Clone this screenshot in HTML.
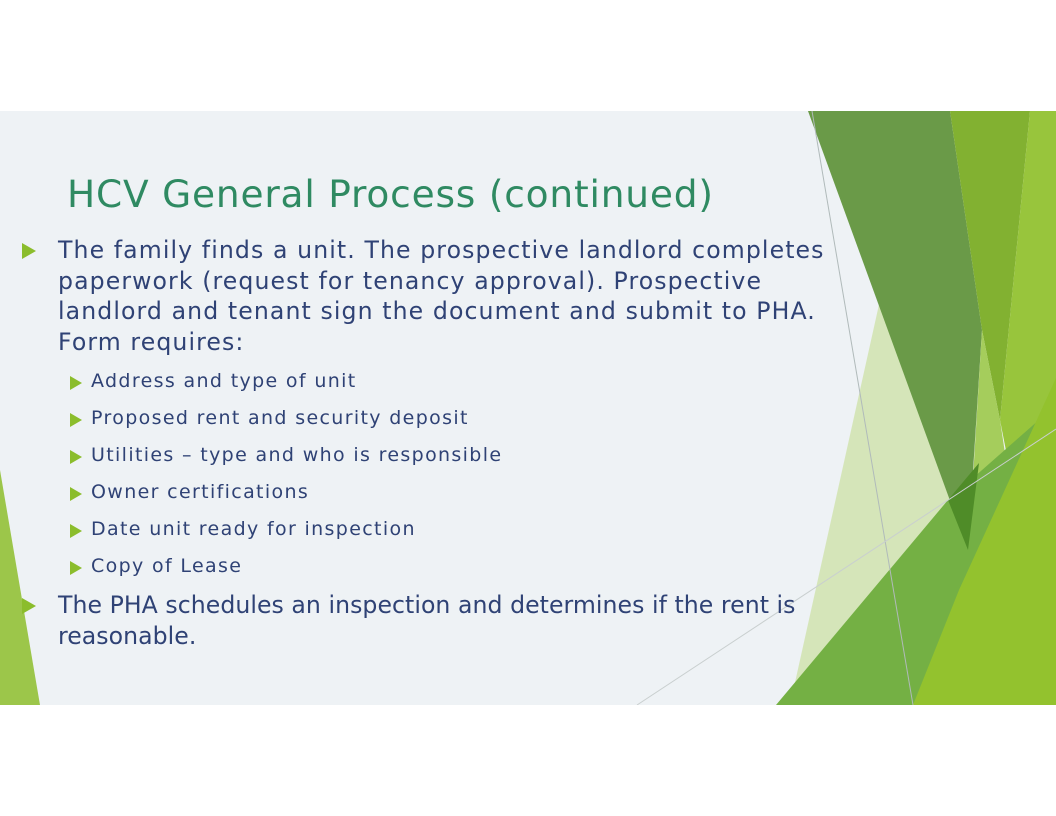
<!DOCTYPE html>
<html><head><meta charset="utf-8"><style>
body{margin:0;width:1056px;height:816px;background:#fff;position:relative;overflow:hidden;font-family:"DejaVu Sans","Liberation Sans",sans-serif}
.slide{position:absolute;left:0;top:111px;width:1056px;height:594px;background:#eef2f5;overflow:hidden}
.t{position:absolute;white-space:nowrap}
.title{left:67px;top:172px;font-size:37.5px;color:#2f8a62;letter-spacing:0.8px}
.b{font-size:23.6px;color:#2f4275;line-height:30.5px;left:58px;letter-spacing:1.1px}
.s{font-size:19px;color:#2f4275;left:91px;letter-spacing:1.35px}
.arr{position:absolute;width:0;height:0;border-top:8px solid transparent;border-bottom:8px solid transparent;border-left:14px solid #8bbd2c}
.arr2{position:absolute;width:0;height:0;border-top:7px solid transparent;border-bottom:7px solid transparent;border-left:12px solid #8bbd2c}
</style></head><body>
<div class="slide">
<svg width="1056" height="594" viewBox="0 111 1056 594" style="position:absolute;left:0;top:0">
<polygon points="0,470 40,705 0,705" fill="#9cc64a"/>
<polygon points="880,300 968,550 790,705" fill="#d5e5b9"/>
<polygon points="808,111 950,111 982,330 968,550" fill="#6a9a48"/>
<polygon points="950,111 1030,111 1000,420 982,330" fill="#82b131"/>
<polygon points="1030,111 1056,111 1056,705 1000,420" fill="#98c53c"/>
<polygon points="982,330 1000,420 1012,500 968,560" fill="#a5cd5c"/>
<polygon points="776,705 948,500 1056,405 1056,705" fill="#74b044"/>
<polygon points="948,500 979,463 968,550" fill="#4f8c28"/>
<polygon points="913,705 959,590 1056,378 1056,705" fill="#93c22e"/>
<line x1="812" y1="111" x2="913" y2="705" stroke="#b0baba" stroke-width="1"/>
<line x1="637" y1="705" x2="1056" y2="429" stroke="#c9cfcf" stroke-width="1"/>
</svg>
</div>
<div class="t title">HCV General Process (continued)</div>
<div class="arr" style="left:22px;top:243px"></div>
<div class="t b" style="top:235px">The family finds a unit. The prospective landlord completes<br>paperwork (request for tenancy approval). Prospective<br>landlord and tenant sign the document and submit to PHA.<br>Form requires:</div>
<div class="arr2" style="left:70px;top:376px"></div><div class="t s" style="top:370px">Address and type of unit</div>
<div class="arr2" style="left:70px;top:413px"></div><div class="t s" style="top:407px">Proposed rent and security deposit</div>
<div class="arr2" style="left:70px;top:450px"></div><div class="t s" style="top:444px">Utilities – type and who is responsible</div>
<div class="arr2" style="left:70px;top:487px"></div><div class="t s" style="top:481px">Owner certifications</div>
<div class="arr2" style="left:70px;top:524px"></div><div class="t s" style="top:518px">Date unit ready for inspection</div>
<div class="arr2" style="left:70px;top:561px"></div><div class="t s" style="top:555px">Copy of Lease</div>
<div class="arr" style="left:22px;top:598px"></div>
<div class="t b" style="top:590px;letter-spacing:0.05px">The PHA schedules an inspection and determines if the rent is<br>reasonable.</div>
</body></html>
